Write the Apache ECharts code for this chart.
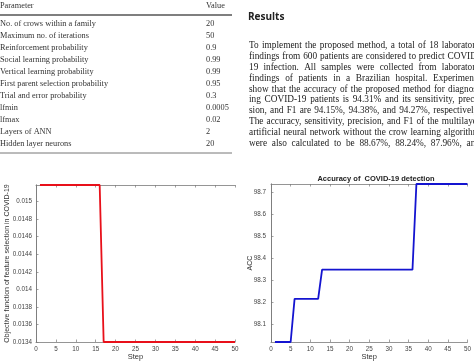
<!DOCTYPE html>
<html><head><meta charset="utf-8">
<script src="https://cdn.jsdelivr.net/npm/echarts@6/dist/echarts.min.js"></script>
<style>html,body{margin:0;padding:0;background:#fff}#c{width:474px;height:362px}</style>
</head><body><div id="c"></div>
<script>
// ---- table data ----
const tableHeader = ['Parameter', 'Value'];
const tableParams = ['No. of crows within a family', 'Maximum no. of iterations', 'Reinforcement probability',
  'Social learning probability', 'Vertical learning probability', 'First parent selection probability',
  'Trial and error probability', 'lfmin', 'lfmax', 'Layers of ANN', 'Hidden layer neurons'];
const tableValues = ['20', '50', '0.9', '0.99', '0.99', '0.95', '0.3', '0.0005', '0.02', '2', '20'];

// ---- text ----
const sectionTitle = 'Results';
const resultLines = [
  'To implement the proposed method, a total of 18 laboratory',
  'findings from 600 patients are considered to predict COVID-',
  '19 infection. All samples were collected from laboratory',
  'findings of patients in a Brazilian hospital. Experiments',
  'show that the accuracy of the proposed method for diagnos-',
  'ing COVID-19 patients is 94.31% and its sensitivity, preci-',
  'sion, and F1 are 94.15%, 94.38%, and 94.27%, respectively.',
  'The accuracy, sensitivity, precision, and F1 of the multilayer',
  'artificial neural network without the crow learning algorithm',
  'were also calculated to be 88.67%, 88.24%, 87.96%, and'
];

// ---- chart data ----
const steps = [1,2,3,4,5,6,7,8,9,10,11,12,13,14,15,16,17,18,19,20,21,22,23,24,25,
  26,27,28,29,30,31,32,33,34,35,36,37,38,39,40,41,42,43,44,45,46,47,48,49,50];
const objective = [0.01519,0.01519,0.01519,0.01519,0.01519,0.01519,0.01519,0.01519,
  0.01519,0.01519,0.01519,0.01519,0.01519,0.01519,0.01519,0.01519,
  0.0134,0.0134,0.0134,0.0134,0.0134,0.0134,0.0134,0.0134,0.0134,0.0134,
  0.0134,0.0134,0.0134,0.0134,0.0134,0.0134,0.0134,0.0134,0.0134,0.0134,
  0.0134,0.0134,0.0134,0.0134,0.0134,0.0134,0.0134,0.0134,0.0134,0.0134,
  0.0134,0.0134,0.0134,0.0134];
const accuracy = [98.017,98.017,98.017,98.017,98.017,
  98.214,98.214,98.214,98.214,98.214,98.214,98.214,
  98.347,98.347,98.347,98.347,98.347,98.347,98.347,98.347,98.347,98.347,98.347,98.347,
  98.347,98.347,98.347,98.347,98.347,98.347,98.347,98.347,98.347,98.347,98.347,98.347,
  98.738,98.738,98.738,98.738,98.738,98.738,98.738,98.738,98.738,98.738,98.738,98.738,98.738,98.738];
const xTickLabels = ['0','5','10','15','20','25','30','35','40','45','50'];
const objTickLabels = ['0.0134','0.0136','0.0138','0.014','0.0142','0.0144','0.0146','0.0148','0.015'];
const accTickLabels = ['98.1','98.2','98.3','98.4','98.5','98.6','98.7'];
const xName = 'Step';
const objName = 'Objective function of feature selection in COVID-19';
const accName = 'ACC';
const accTitle = 'Accuracy of  COVID-19 detection';

function fromLabels(labels) {
  return function (v) {
    for (const l of labels) { if (Math.abs(parseFloat(l) - v) < 1e-7) return l; }
    return '';
  };
}

const sans = '"Liberation Sans", Arial, sans-serif';
const serif = '"Liberation Serif", "Times New Roman", serif';
const axisColor = '#7a7a7a';
const labelStyle = { fontFamily: sans, fontSize: 6.3, color: '#444' };

function baseX(grid, extra) {
  return Object.assign({
    type: 'value', gridIndex: grid, min: 0, max: 50, interval: 5,
    axisLine: { show: true, lineStyle: { color: axisColor, width: 0.8 } },
    axisTick: { show: true, inside: true, length: 2.5, lineStyle: { color: axisColor, width: 0.7 } },
    splitLine: { show: false }
  }, extra);
}

const pairsObj = steps.map((s, i) => [s, objective[i]]);
const pairsAcc = steps.map((s, i) => [s, accuracy[i]]);

const graphic = [];
const tableFont = '8.3px ' + serif;
// table
graphic.push({ type: 'text', x: 0, y: 6, style: { text: tableHeader[0], font: tableFont, fill: '#333', textVerticalAlign: 'middle' } });
graphic.push({ type: 'text', x: 206, y: 6, style: { text: tableHeader[1], font: tableFont, fill: '#333', textVerticalAlign: 'middle' } });
graphic.push({ type: 'line', shape: { x1: 0, y1: 15, x2: 232, y2: 15 }, style: { stroke: '#555', lineWidth: 1.5 } });
tableParams.forEach((p, i) => {
  const y = 24 + i * 12;
  graphic.push({ type: 'text', x: 0, y: y, style: { text: p, font: tableFont, fill: '#333', textVerticalAlign: 'middle' } });
  graphic.push({ type: 'text', x: 206, y: y, style: { text: tableValues[i], font: tableFont, fill: '#333', textVerticalAlign: 'middle' } });
});
graphic.push({ type: 'line', shape: { x1: 0, y1: 153, x2: 232, y2: 153 }, style: { stroke: '#777', lineWidth: 1 } });
// results heading
graphic.push({ type: 'text', x: 248, y: 17, style: { text: sectionTitle, font: 'bold 10px "Open Sans", sans-serif', fill: '#222', textVerticalAlign: 'middle' } });
// justified body text
const bodyFont = '9.3px ' + serif;
const colLeft = 249, colRight = 480;
const mctx = document.createElement('canvas').getContext('2d');
mctx.font = bodyFont;
resultLines.forEach((t, i) => {
  const y = 46 + i * 10.8;
  const words = t.split(' ');
  const widths = words.map(w => mctx.measureText(w).width);
  const total = widths.reduce((a, b) => a + b, 0);
  const gap = words.length > 1 ? (colRight - colLeft - total) / (words.length - 1) : 0;
  let x = colLeft;
  words.forEach((w, j) => {
    graphic.push({ type: 'text', x: x, y: y, style: { text: w, font: bodyFont, fill: '#222', textVerticalAlign: 'middle' } });
    x += widths[j] + gap;
  });
});

const option = {
  animation: false,
  backgroundColor: '#fff',
  title: {
    text: accTitle, left: 376, top: 175, textAlign: 'center', padding: 0,
    textStyle: { fontFamily: sans, fontSize: 7.5, fontWeight: 'bold', color: '#222' }
  },
  grid: [
    { left: 36, right: 239, top: 185, bottom: 20 },
    { left: 271, right: 4, top: 184, bottom: 20 }
  ],
  xAxis: [
    baseX(0, { position: 'bottom', axisLabel: { ...labelStyle, margin: 4, formatter: fromLabels(xTickLabels) },
      name: xName, nameLocation: 'middle', nameGap: 11, nameTextStyle: { fontFamily: sans, fontSize: 7.5, color: '#333' } }),
    baseX(0, { position: 'top', axisLabel: { show: false } }),
    baseX(1, { position: 'bottom', axisLabel: { ...labelStyle, margin: 4, formatter: fromLabels(xTickLabels) },
      name: xName, nameLocation: 'middle', nameGap: 11, nameTextStyle: { fontFamily: sans, fontSize: 7.5, color: '#333' } }),
    baseX(1, { position: 'top', axisLabel: { show: false } })
  ],
  yAxis: [
    { type: 'value', gridIndex: 0, position: 'left', min: 'dataMin', max: 'dataMax', splitNumber: 9,
      minInterval: 0.0002, maxInterval: 0.0002,
      axisLine: { show: true, lineStyle: { color: axisColor, width: 0.8 } },
      axisTick: { show: true, inside: true, length: 2.5, lineStyle: { color: axisColor, width: 0.7 } },
      axisLabel: { ...labelStyle, margin: 4, showMaxLabel: false, showMinLabel: true, formatter: fromLabels(objTickLabels) },
      splitLine: { show: false },
      name: objName, nameLocation: 'middle', nameGap: 25, nameRotate: 90, nameMoveOverlap: false,
      nameTextStyle: { fontFamily: sans, fontSize: 7, color: '#333' } },
    { type: 'value', gridIndex: 0, position: 'right', min: 'dataMin', max: 'dataMax', splitNumber: 9,
      minInterval: 0.0002, maxInterval: 0.0002,
      axisLine: { show: true, lineStyle: { color: axisColor, width: 0.8 } },
      axisTick: { show: true, inside: true, length: 2.5, lineStyle: { color: axisColor, width: 0.7 } },
      minorTick: { show: true, splitNumber: 5, length: 1.5, lineStyle: { color: axisColor, width: 0.6 } },
      axisLabel: { show: false }, splitLine: { show: false } },
    { type: 'value', gridIndex: 1, position: 'left', min: 'dataMin', max: 'dataMax', splitNumber: 7,
      minInterval: 0.1, maxInterval: 0.1,
      axisLine: { show: true, lineStyle: { color: axisColor, width: 0.8 } },
      axisTick: { show: true, inside: true, length: 2.5, lineStyle: { color: axisColor, width: 0.7 } },
      axisLabel: { ...labelStyle, margin: 5, showMaxLabel: false, showMinLabel: false, formatter: fromLabels(accTickLabels) },
      splitLine: { show: false },
      name: accName, nameLocation: 'middle', nameGap: 17.5, nameRotate: 90, nameMoveOverlap: false,
      nameTextStyle: { fontFamily: sans, fontSize: 7, color: '#333' } },
    { type: 'value', gridIndex: 1, position: 'right', min: 'dataMin', max: 'dataMax', splitNumber: 7,
      minInterval: 0.1, maxInterval: 0.1,
      axisLine: { show: true, lineStyle: { color: axisColor, width: 0.8 } },
      axisTick: { show: true, inside: true, length: 2.5, lineStyle: { color: axisColor, width: 0.7 } },
      axisLabel: { show: false }, splitLine: { show: false } }
  ],
  series: [
    { type: 'line', xAxisIndex: 0, yAxisIndex: 0, data: pairsObj, showSymbol: false, symbol: 'none',
      lineStyle: { color: '#e8101a', width: 1.8 }, z: 5 },
    { type: 'line', xAxisIndex: 2, yAxisIndex: 2, data: pairsAcc, showSymbol: false, symbol: 'none',
      lineStyle: { color: '#1414d0', width: 1.8 }, z: 5 }
  ],
  graphic: graphic
};

const chart = echarts.init(document.getElementById('c'), null, { renderer: 'canvas' });
chart.setOption(option);
</script></body></html>
